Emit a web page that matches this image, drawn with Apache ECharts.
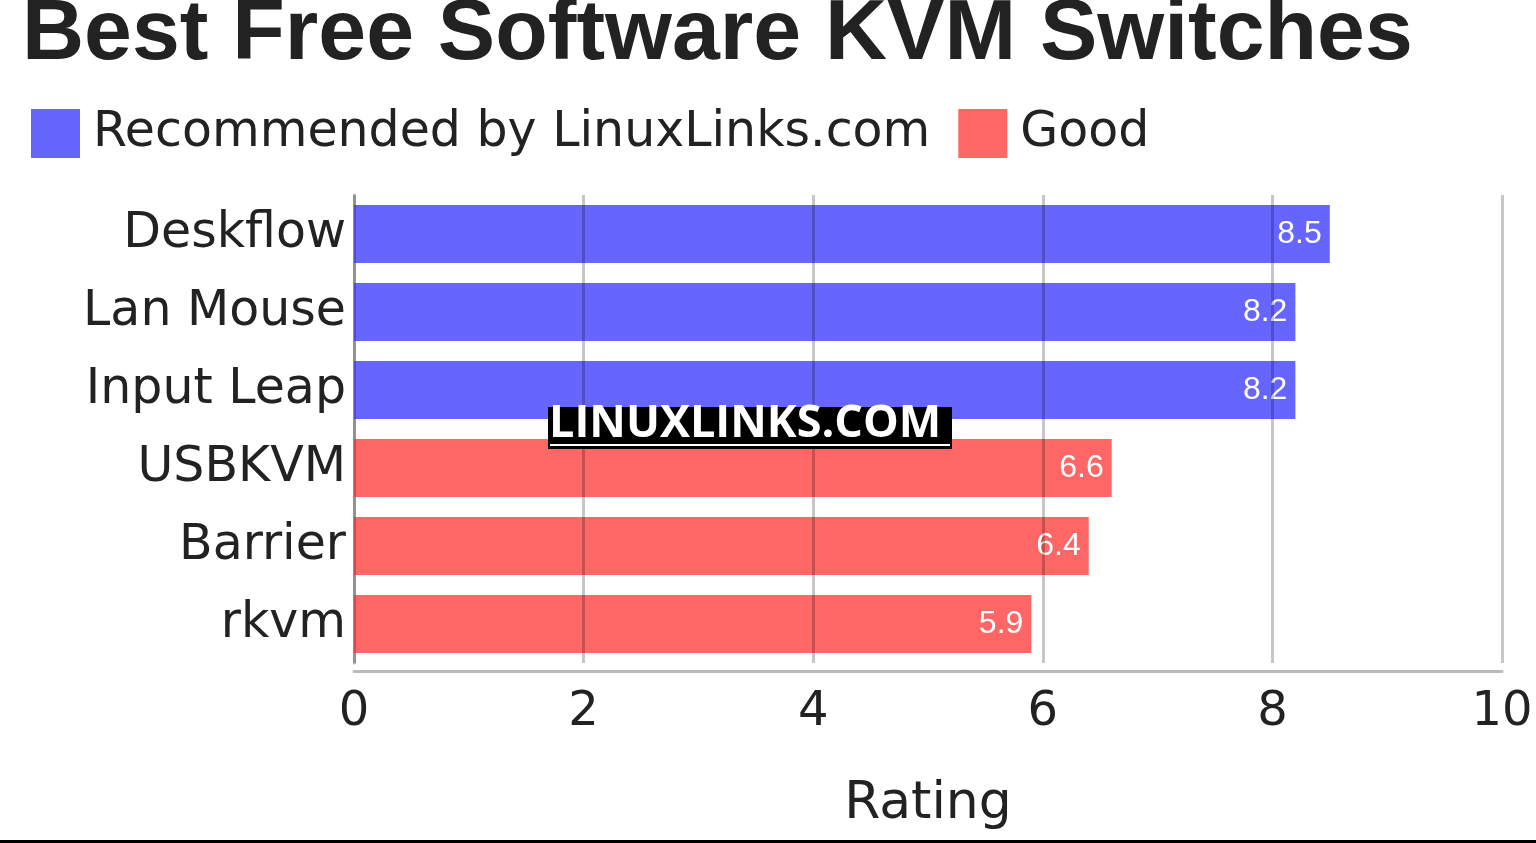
<!DOCTYPE html>
<html><head><meta charset="utf-8">
<script src="https://cdn.jsdelivr.net/npm/echarts@6/dist/echarts.min.js"></script>
<style>html,body{margin:0;padding:0;background:#fff}#c{width:1536px;height:843px}</style>
</head><body><div id="c"></div>
<script>
var categories = ['Deskflow', 'Lan Mouse', 'Input Leap', 'USBKVM', 'Barrier', 'rkvm'];
var recommended = [8.5, 8.2, 8.2, null, null, null];
var good = [null, null, null, 6.6, 6.4, 5.9];
var xTicks = [0, 2, 4, 6, 8, 10];

var chart = echarts.init(document.getElementById('c'));
var label = { show: true, position: 'insideRight', color: '#fff', fontSize: 32, fontFamily: 'Liberation Sans', distance: 8 };
chart.setOption({
  animation: false,
  title: { text: 'Best Free Software KVM Switches', left: 17, top: -13,
    textStyle: { fontSize: 86, fontWeight: 'bold', color: '#222', fontFamily: 'Liberation Sans' } },
  legend: { left: 26, top: 104, itemWidth: 49, itemHeight: 49, itemGap: 28, icon: 'rect',
    textStyle: { fontSize: 49, color: '#222', fontFamily: 'DejaVu Sans', padding: [0, 0, 0, 8] },
    data: ['Recommended by LinuxLinks.com', 'Good'] },
  grid: { left: 354, right: 34, top: 195, bottom: 180 },
  xAxis: { type: 'value', min: xTicks[0], max: xTicks[xTicks.length - 1], interval: 2, offset: 8,
    name: 'Rating', nameLocation: 'middle', nameGap: 107,
    nameTextStyle: { fontSize: 52, color: '#222', fontFamily: 'DejaVu Sans' },
    axisLine: { show: true, lineStyle: { color: '#bbb', width: 3 } }, axisTick: { show: false },
    axisLabel: { fontSize: 48, color: '#222', fontFamily: 'DejaVu Sans', margin: 18 },
    splitLine: { lineStyle: { color: 'rgba(0,0,0,0.22)', width: 3 } } },
  yAxis: { type: 'category', data: categories, inverse: true,
    axisLine: { show: true, lineStyle: { color: '#bbb', width: 3 } }, axisTick: { show: false },
    axisLabel: { fontSize: 49, color: '#222', fontFamily: 'DejaVu Sans', margin: 8 } },
  series: [
    { name: 'Recommended by LinuxLinks.com', type: 'bar', stack: 's', data: recommended, barWidth: 58,
      itemStyle: { color: '#6666ff' }, label: label },
    { name: 'Good', type: 'bar', stack: 's', data: good, barWidth: 58,
      itemStyle: { color: '#ff6666' }, label: label }
  ],
  graphic: [
    { type: 'rect', shape: { x: 548, y: 407, width: 404, height: 42 }, style: { fill: '#000' }, z: 100 },
    { type: 'rect', shape: { x: 550, y: 444, width: 400, height: 2 }, style: { fill: '#fff' }, z: 101 },
    { type: 'text', left: 549, top: 402, z: 101,
      style: { text: 'LINUXLINKS.COM', fill: '#fff', font: 'bold 45px "Open Sans"' } },
    { type: 'rect', shape: { x: 0, y: 840, width: 1536, height: 3 }, style: { fill: '#000' } }
  ]
});
chart.setOption({ xAxis: { z: 5 } });
</script></body></html>
